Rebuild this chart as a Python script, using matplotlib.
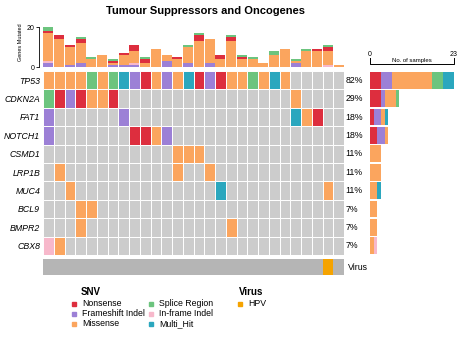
import numpy as np
import matplotlib
matplotlib.use("Agg")
import matplotlib.pyplot as plt
from matplotlib.patches import Rectangle

plt.rcParams['font.family'] = ['Liberation Sans', 'DejaVu Sans']

W, H = 474, 340

# Genes and per-sample mutation calls (28 samples)
# N nonsense, F frameshift, M missense, S splice, I in-frame, H multi-hit, . none
genes = ['TP53', 'CDKN2A', 'FAT1', 'NOTCH1', 'CSMD1', 'LRP1B', 'MUC4', 'BCL9', 'BMPR2', 'CBX8']
calls = [
    "MMMMSMSHFNMFMHNFNMMSMHM.....",
    "SNFNMMN................M....",
    "F......F...............HMN..",
    "F.......NNMF................",
    "............MMM.............",
    ".M..........M..M............",
    "..M.............H.........M.",
    "...MM.......................",
    "...M.............M..........",
    "IM..........................",
]
virus_hpv = [0] * 26 + [1, 0]

# Genes mutated per sample, by class
tmb_frameshift = [2, 0, 1, 2, 0, 0, 1, 1, 1, 0, 0, 3, 0, 2, 0, 2, 0, 0, 0, 0, 0, 0, 0, 2, 0, 0, 0, 0]
tmb_inframe    = [1, 0, 0, 0, 0, 0, 0, 0, 1, 0, 0, 0, 0, 0, 0, 0, 0, 0, 0, 0, 0, 0, 0, 0, 0, 0, 1, 0]
tmb_missense   = [14, 14, 9, 10, 4, 6, 1, 5, 6, 2, 9, 3, 4, 8, 13, 12, 4, 13, 4, 4, 2, 6, 9, 1, 8, 8, 7, 1]
tmb_nonsense   = [1, 2, 1, 2, 0, 0, 1, 1, 3, 2, 0, 0, 1, 0, 3, 0, 2, 2, 1, 0, 0, 0, 0, 0, 0, 1, 2, 0]
tmb_splice     = [2, 0, 0, 1, 1, 0, 1, 0, 0, 1, 0, 0, 0, 1, 1, 0, 0, 1, 1, 1, 0, 2, 0, 1, 1, 0, 1, 0]

colors = {'N': '#DD2E3E', 'F': '#9C80D6', 'M': '#FBA55E', 'S': '#6CC47E',
          'I': '#F7B8CB', 'H': '#2BA7BE'}
labels = {'N': 'Nonsense', 'F': 'Frameshift Indel', 'M': 'Missense',
          'S': 'Splice Region', 'I': 'In-frame Indel', 'H': 'Multi_Hit'}
grey = '#CCCCCC'
hpv_col = '#F5A300'

n_s = len(calls[0])
n_g = len(genes)


def px_axes(x0, y0, x1, y1):
    return fig.add_axes([x0 / W, 1 - y1 / H, (x1 - x0) / W, (y1 - y0) / H])


fig = plt.figure(figsize=(W / 100, H / 100), dpi=100)

# title
fig.text(205 / W, 1 - 11 / H, 'Tumour Suppressors and Oncogenes', ha='center', va='center',
         fontsize=8, fontweight='bold')

# top: genes mutated per sample
ax_top = px_axes(43, 18, 344, 67)
x = np.arange(n_s)
bottom = np.zeros(n_s)
for vals, c in [(tmb_frameshift, 'F'), (tmb_inframe, 'I'), (tmb_missense, 'M'),
                (tmb_nonsense, 'N'), (tmb_splice, 'S')]:
    ax_top.bar(x, vals, width=0.92, bottom=bottom, color=colors[c], linewidth=0)
    bottom += np.array(vals)
ax_top.set_xlim(-0.5, n_s - 0.5)
ax_top.set_ylim(0, 24.5)
for s in ['top', 'right', 'bottom']:
    ax_top.spines[s].set_visible(False)
ax_top.spines['left'].set_bounds(0, 20)
ax_top.spines['left'].set_position(('outward', 3))
ax_top.spines['left'].set_linewidth(0.6)
ax_top.set_yticks([0, 20])
ax_top.tick_params(axis='y', labelsize=5, length=2, width=0.6, pad=1)
ax_top.set_xticks([])
ax_top.set_ylabel('Genes Mutated', fontsize=4, labelpad=3)

# main matrix
ax_m = px_axes(43, 71, 344, 255)
for gi, row in enumerate(calls):
    for si, c in enumerate(row):
        col = grey if c == '.' else colors[c]
        ax_m.barh(gi, 1, left=si - 0.5, height=1, color=col, edgecolor='white', linewidth=0.7)
ax_m.set_xlim(-0.5, n_s - 0.5)
ax_m.set_ylim(n_g - 0.5, -0.5)
ax_m.set_yticks(range(n_g))
ax_m.set_yticklabels(genes, fontsize=6.3, style='italic')
ax_m.tick_params(axis='y', length=0, pad=2)
ax_m.set_xticks([])
for s in ax_m.spines.values():
    s.set_visible(False)

# percent altered on the right
counts = [sum(1 for c in row if c != '.') for row in calls]
for gi, cnt in enumerate(counts):
    ax_m.text(n_s - 0.5 + 0.15, gi, f'{round(100 * cnt / n_s)}%', fontsize=6.3,
              va='center', ha='left')

# virus row
ax_v = px_axes(43, 259, 344, 275)
ax_v.barh(0, n_s, left=-0.5, height=1, color='#B5B5B5', linewidth=0)
for si, v in enumerate(virus_hpv):
    if v:
        ax_v.barh(0, 1, left=si - 0.5, height=1, color=hpv_col, linewidth=0)
ax_v.set_xlim(-0.5, n_s - 0.5)
ax_v.set_ylim(-0.5, 0.5)
ax_v.axis('off')
fig.text(348 / W, 1 - 267 / H, 'Virus', fontsize=6.3, va='center', ha='left')

# right: number of samples per gene
ax_r = px_axes(370, 71, 454, 255)
order = ['N', 'F', 'M', 'S', 'I', 'H']
left = np.zeros(n_g)
for c in order:
    vals = np.array([row.count(c) for row in calls])
    ax_r.barh(np.arange(n_g), vals, left=left, height=0.92, color=colors[c], linewidth=0)
    left += vals
ax_r.set_xlim(0, 23)
ax_r.set_ylim(n_g - 0.5, -0.5)
ax_r.axis('off')

# bracket axis above the right bars
ax_b = px_axes(370, 52, 454, 66)
ax_b.set_xlim(0, 23)
ax_b.set_ylim(0, 1)
ax_b.axis('off')
ax_b.plot([0, 0, 23, 23], [0.55, 0.15, 0.15, 0.55], color='black', lw=0.7, clip_on=False)
ax_b.text(0, 0.85, '0', fontsize=5, ha='center', va='center')
ax_b.text(23, 0.85, '23', fontsize=5, ha='center', va='center')
ax_b.text(11.5, 0.42, 'No. of samples', fontsize=4.3, ha='center', va='center')

# legend
fig.text(81 / W, 1 - 292 / H, 'SNV', fontsize=7, fontweight='bold', va='center')
leg_items = [('N', 74, 304), ('F', 74, 314), ('M', 74, 324),
             ('S', 151, 304), ('I', 151, 314), ('H', 151, 324)]
for c, lx, ly in leg_items:
    fig.patches.append(Rectangle(((lx - 2.2) / W, 1 - (ly + 2.2) / H), 4.4 / W, 4.4 / H,
                                 transform=fig.transFigure, color=colors[c]))
    fig.text((lx + 8) / W, 1 - ly / H, labels[c], fontsize=6.3, va='center')
fig.text(239 / W, 1 - 292 / H, 'Virus', fontsize=7, fontweight='bold', va='center')
fig.patches.append(Rectangle(((240 - 2.2) / W, 1 - (304 + 2.2) / H), 4.4 / W, 4.4 / H,
                             transform=fig.transFigure, color=hpv_col))
fig.text(248 / W, 1 - 304 / H, 'HPV', fontsize=6.3, va='center')

fig.savefig('out.png', dpi=100)
